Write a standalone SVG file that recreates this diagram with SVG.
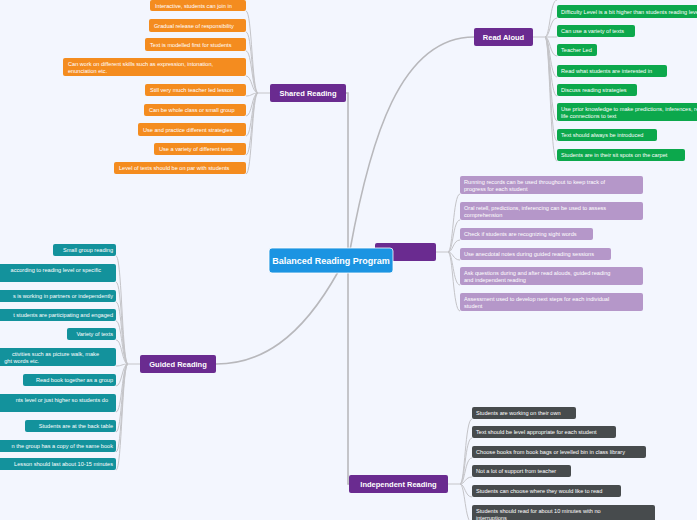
<svg xmlns="http://www.w3.org/2000/svg" width="697" height="520" viewBox="0 0 697 520">
<style>
text{font-family:"Liberation Sans",Arial,sans-serif;fill:#fff}
.t{font-size:5.6px}
.m{font-size:7.5px;font-weight:bold}
.c path{fill:none;stroke:#c4c4c8;stroke-width:1}
.c .main{stroke:#b8b8bc;stroke-width:1.6}
.o{fill:#f48c1f}.g{fill:#0ca84c}.p{fill:#b597c9}.tl{fill:#13929c}.d{fill:#474b4d}.pu{fill:#6a2b90}
</style>
<rect width="697" height="520" fill="#f3f6fe"/>
<g class="c">
<path class="main" d="M346 93 H348 V250"/>
<path class="main" d="M350 250 C370 140 400 37 474 37"/>
<path class="main" d="M338 272 C300 340 260 364 216 364"/>
<path class="main" d="M348 272 V484 H349"/>
<path class="main" d="M393 252 H375"/>
<path d="M270 93 H258 C252 93 252 11 246 11"/><path d="M258 93 C252 93 252 32 246 32"/><path d="M258 93 C252 93 252 51 246 51"/><path d="M258 93 C252 93 252 76 246 76"/><path d="M258 93 C252 93 252 96 246 96"/><path d="M258 93 C252 93 252 116 246 116"/><path d="M258 93 C252 93 252 136 246 136"/><path d="M258 93 C252 93 252 155 246 155"/><path d="M258 93 C252 93 252 174 246 174"/>
<path d="M533 37 H545 C550 37 550 0 557 0"/><path d="M545 37 C550 37 550 18 557 18"/><path d="M545 37 C550 37 550 37 557 37"/><path d="M545 37 C550 37 550 56 557 56"/><path d="M545 37 C550 37 550 77 557 77"/><path d="M545 37 C550 37 550 96 557 96"/><path d="M545 37 C550 37 550 121 557 121"/><path d="M545 37 C550 37 550 141 557 141"/><path d="M545 37 C550 37 550 161 557 161"/>
<path d="M436 252 H448 C453 252 453 194 460 194"/><path d="M448 252 C453 252 453 220 460 220"/><path d="M448 252 C453 252 453 240 460 240"/><path d="M448 252 C453 252 453 260 460 260"/><path d="M448 252 C453 252 453 285 460 285"/><path d="M448 252 C453 252 453 311 460 311"/>
<path d="M140 364 H128 C122 364 122 256 116 256"/><path d="M128 364 C122 364 122 282 116 282"/><path d="M128 364 C122 364 122 302 116 302"/><path d="M128 364 C122 364 122 321 116 321"/><path d="M128 364 C122 364 122 340 116 340"/><path d="M128 364 C122 364 122 366 116 366"/><path d="M128 364 C122 364 122 386 116 386"/><path d="M128 364 C122 364 122 412 116 412"/><path d="M128 364 C122 364 122 432 116 432"/><path d="M128 364 C122 364 122 452 116 452"/><path d="M128 364 C122 364 122 470 116 470"/>
<path d="M448 484 H460 C465 484 465 419 472 419"/><path d="M460 484 C465 484 465 438 472 438"/><path d="M460 484 C465 484 465 458 472 458"/><path d="M460 484 C465 484 465 477 472 477"/><path d="M460 484 C465 484 465 497 472 497"/><path d="M460 484 C465 484 465 523 472 523"/>
</g>
<g id="shared"><rect class="pu" x="270" y="84" width="76" height="18" rx="2"/><text class="m" x="308" y="96" text-anchor="middle" font-size="7">Shared Reading</text>
<rect class="o" x="150" y="0" width="96" height="11" rx="2"/><text class="t" x="155" y="7.5">Interactive, students can join in</text>
<rect class="o" x="149" y="19" width="97" height="13" rx="2"/><text class="t" x="154" y="27.5">Gradual release of responsibility</text>
<rect class="o" x="145" y="38" width="101" height="13" rx="2"/><text class="t" x="150" y="46.5">Text is modelled first for students</text>
<rect class="o" x="63" y="58" width="183" height="18" rx="2"/><text class="t" x="68" y="66">Can work on different skills such as expression, intonation,</text><text class="t" x="68" y="73">enunciation etc.</text>
<rect class="o" x="145" y="84" width="101" height="12" rx="2"/><text class="t" x="150" y="92">Still very much teacher led lesson</text>
<rect class="o" x="144" y="104" width="102" height="12" rx="2"/><text class="t" x="149" y="112">Can be whole class or small group</text>
<rect class="o" x="138" y="123" width="108" height="13" rx="2"/><text class="t" x="143" y="131.5">Use and practice different strategies</text>
<rect class="o" x="154" y="143" width="92" height="12" rx="2"/><text class="t" x="159" y="151">Use a variety of different texts</text>
<rect class="o" x="114" y="162" width="132" height="12" rx="2"/><text class="t" x="119" y="170">Level of texts should be on par with students</text></g>
<g id="readaloud"><rect class="pu" x="474" y="28" width="59" height="18" rx="2"/><text class="m" x="503.5" y="40" text-anchor="middle" font-size="7">Read Aloud</text>
<rect class="g" x="557" y="-10" width="150" height="10" rx="2"/>
<rect class="g" x="557" y="5" width="150" height="13" rx="2"/><text class="t" x="561" y="13.5">Difficulty Level is a bit higher than students reading level</text>
<rect class="g" x="557" y="25" width="78" height="12" rx="2"/><text class="t" x="561" y="33">Can use a variety of texts</text>
<rect class="g" x="557" y="44" width="40" height="12" rx="2"/><text class="t" x="561" y="52">Teacher Led</text>
<rect class="g" x="557" y="65" width="110" height="12" rx="2"/><text class="t" x="561" y="73">Read what students are interested in</text>
<rect class="g" x="557" y="84" width="80" height="12" rx="2"/><text class="t" x="561" y="92">Discuss reading strategies</text>
<rect class="g" x="557" y="103" width="150" height="18" rx="2"/><text class="t" x="561" y="111">Use prior knowledge to make predictions, inferences, real</text><text class="t" x="561" y="118">life connections to text</text>
<rect class="g" x="557" y="129" width="100" height="12" rx="2"/><text class="t" x="561" y="137">Text should always be introduced</text>
<rect class="g" x="557" y="149" width="128" height="12" rx="2"/><text class="t" x="561" y="157">Students are in their sit spots on the carpet</text></g>
<g id="assessment"><rect class="pu" x="375" y="243" width="61" height="18" rx="2"/>
<rect class="p" x="460" y="176" width="183" height="18" rx="2"/><text class="t" x="464" y="184">Running records can be used throughout to keep track of</text><text class="t" x="464" y="191">progress for each student</text>
<rect class="p" x="460" y="202" width="183" height="18" rx="2"/><text class="t" x="464" y="210">Oral retell, predictions, inferencing can be used to assess</text><text class="t" x="464" y="217">comprehension</text>
<rect class="p" x="460" y="228" width="133" height="12" rx="2"/><text class="t" x="464" y="236">Check if students are recognizing sight words</text>
<rect class="p" x="460" y="248" width="151" height="12" rx="2"/><text class="t" x="464" y="256">Use anecdotal notes during guided reading sessions</text>
<rect class="p" x="460" y="267" width="183" height="18" rx="2"/><text class="t" x="464" y="275">Ask questions during and after read alouds, guided reading</text><text class="t" x="464" y="282">and independent reading</text>
<rect class="p" x="460" y="293" width="183" height="18" rx="2"/><text class="t" x="464" y="301">Assessment used to develop next steps for each individual</text><text class="t" x="464" y="308">student</text></g>
<g id="central"><rect x="269" y="248" width="124" height="25" rx="3" fill="#1b94e2" stroke="#fff" stroke-width="0.8"/><text x="331" y="264" text-anchor="middle" font-size="9" font-weight="bold">Balanced Reading Program</text></g>
<g id="guided"><rect class="pu" x="140" y="355" width="76" height="18" rx="2"/><text class="m" x="178" y="367" text-anchor="middle" font-size="7">Guided Reading</text>
<g text-anchor="end">
<rect class="tl" x="53" y="244" width="63" height="12" rx="2"/><text class="t" x="113" y="252">Small group reading</text>
<rect class="tl" x="-10" y="264" width="126" height="18" rx="2"/><text class="t" x="101" y="272">according to reading level or specific</text>
<rect class="tl" x="-10" y="290" width="126" height="12" rx="2"/><text class="t" x="113" y="298">s is working in partners or independently</text>
<rect class="tl" x="-10" y="309" width="126" height="12" rx="2"/><text class="t" x="113" y="317">t students are participating and engaged</text>
<rect class="tl" x="67" y="328" width="49" height="12" rx="2"/><text class="t" x="113" y="336">Variety of texts</text>
<rect class="tl" x="-10" y="348" width="126" height="18" rx="2"/><text class="t" x="99" y="356">ctivities such as picture walk, make</text><text class="t" x="39" y="363">ght words etc.</text>
<rect class="tl" x="23" y="374" width="93" height="12" rx="2"/><text class="t" x="113" y="382">Read book together as a group</text>
<rect class="tl" x="-10" y="394" width="126" height="18" rx="2"/><text class="t" x="108" y="402">nts level or just higher so students do</text>
<rect class="tl" x="25" y="420" width="91" height="12" rx="2"/><text class="t" x="113" y="428">Students are at the back table</text>
<rect class="tl" x="-10" y="440" width="126" height="12" rx="2"/><text class="t" x="113" y="448">n the group has a copy of the same book</text>
<rect class="tl" x="-10" y="458" width="126" height="12" rx="2"/><text class="t" x="113" y="466">Lesson should last about 10-15 minutes</text></g></g>
<g id="independent"><rect class="pu" x="349" y="475" width="99" height="18" rx="2"/><text class="m" x="398.5" y="487" text-anchor="middle" font-size="7">Independent Reading</text>
<rect class="d" x="472" y="407" width="104" height="12" rx="2"/><text class="t" x="476" y="415">Students are working on their own</text>
<rect class="d" x="472" y="426" width="144" height="12" rx="2"/><text class="t" x="476" y="434">Text should be level appropriate for each student</text>
<rect class="d" x="472" y="446" width="174" height="12" rx="2"/><text class="t" x="476" y="454">Choose books from book bags or levelled bin in class library</text>
<rect class="d" x="472" y="465" width="99" height="12" rx="2"/><text class="t" x="476" y="473">Not a lot of support from teacher</text>
<rect class="d" x="472" y="485" width="149" height="12" rx="2"/><text class="t" x="476" y="493">Students can choose where they would like to read</text>
<rect class="d" x="472" y="505" width="183" height="20" rx="2"/><text class="t" x="476" y="513">Students should read for about 10 minutes with no</text><text class="t" x="476" y="520">interruptions</text></g>
</svg>
